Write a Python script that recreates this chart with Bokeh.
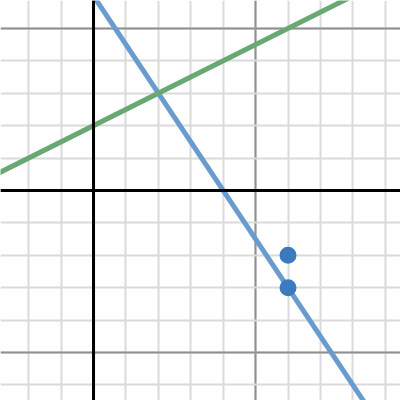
import numpy as np
from bokeh.plotting import figure
from bokeh.models import ColumnDataSource, Span, SingleIntervalTicker
from bokeh.embed import file_html
from bokeh.resources import INLINE

# view window (graph units)
x_range = (-2.87, 9.47)
y_range = (-6.48, 5.86)

# lines y = m*x + b
line_slopes = [-1.5, 0.5]
line_intercepts = [6, 2]
line_colors = ["#6a9bce", "#6aa873"]

# points
point_x = [6, 6]
point_y = [-2, -3]

p = figure(width=400, height=400, x_range=x_range, y_range=y_range,
           output_backend="svg", toolbar_location=None, min_border=0)
p.outline_line_color = None
p.xaxis.visible = False
p.yaxis.visible = False

for g in (p.xgrid, p.ygrid):
    g.ticker = SingleIntervalTicker(interval=5, num_minor_ticks=5)
    g.grid_line_color = "#8f8f8f"
    g.grid_line_width = 2
    g.minor_grid_line_color = "#dadada"
    g.minor_grid_line_width = 2

p.add_layout(Span(location=0, dimension="height", line_color="black", line_width=3))
p.add_layout(Span(location=0, dimension="width", line_color="black", line_width=3))

xs = np.array([x_range[0] - 1, x_range[1] + 1])
for m, b, c in zip(line_slopes, line_intercepts, line_colors):
    p.line(xs, m * xs + b, line_color=c, line_width=5)

src = ColumnDataSource(data={"x": point_x, "y": point_y})
p.scatter("x", "y", source=src, size=17, fill_color="#3a7bc0", line_color=None)

open("out.html", "w").write(file_html(p, INLINE))
